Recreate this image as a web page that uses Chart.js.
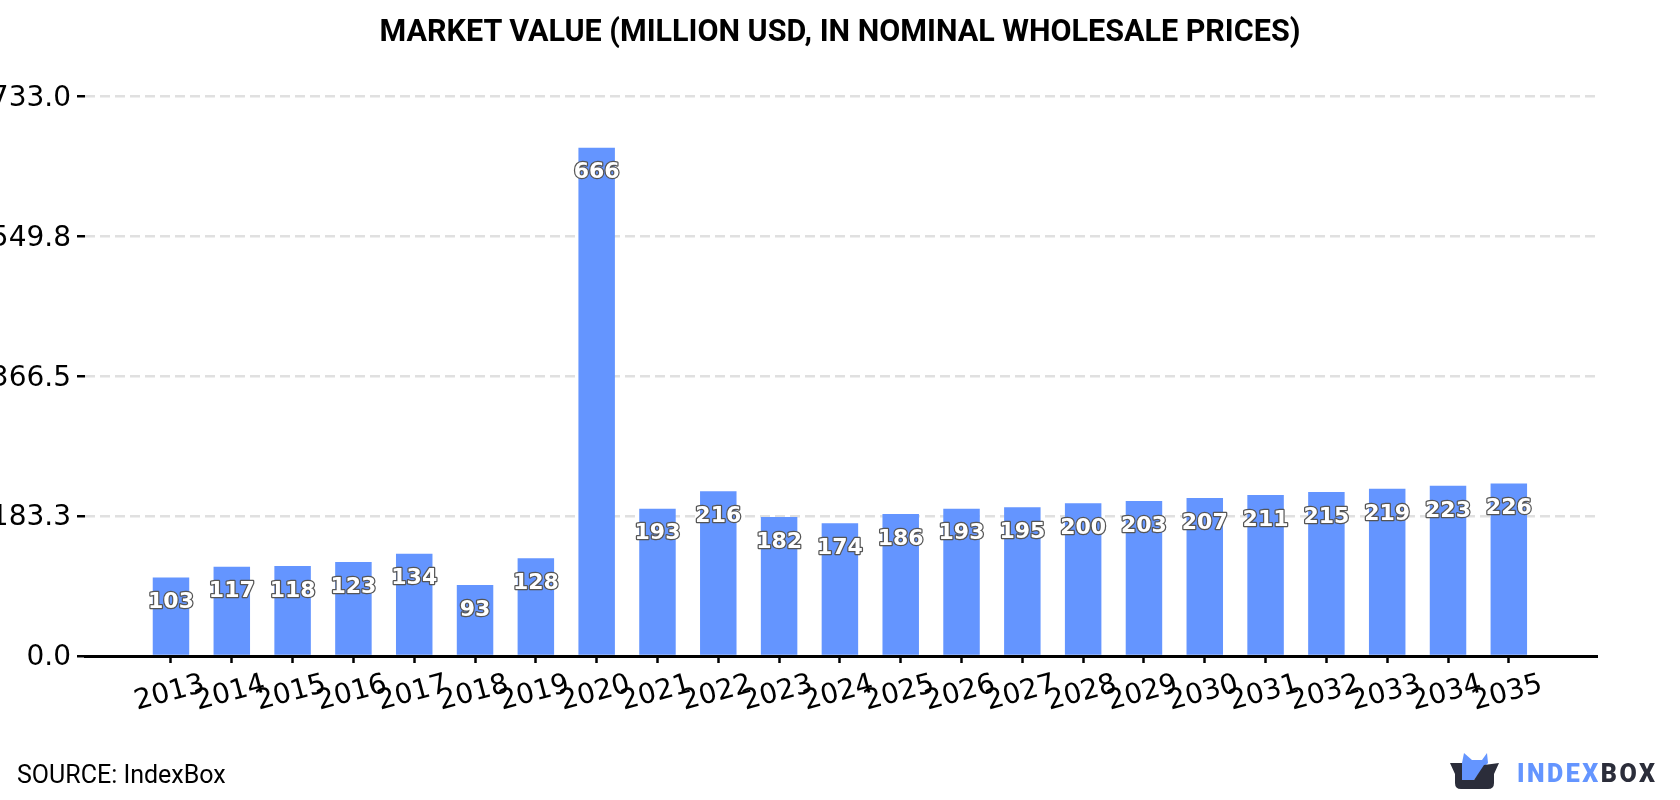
<!DOCTYPE html>
<html>
<head>
<meta charset="utf-8">
<title>Market value</title>
<script src="https://cdn.jsdelivr.net/npm/chart.js@4/dist/chart.umd.min.js"></script>
<style>
  html, body { margin: 0; padding: 0; background: #fff; overflow: hidden; }
  #wrap { position: relative; width: 1680px; height: 800px; }
  #heading { position: absolute; left: 0; top: 14px; width: 1680px; text-align: center; font: 700 30.5px/34px Roboto, sans-serif; color: #000; }
  #source { position: absolute; left: 17px; top: 761px; font: 400 25px/28px Roboto, sans-serif; color: #000; }
  #brand { position: absolute; left: 1450px; top: 752px; width: 210px; height: 40px; }
</style>
</head>
<body>
<div id="wrap">
  <canvas id="myChart" width="1680" height="800"></canvas>
  <div id="heading">MARKET VALUE (MILLION USD, IN NOMINAL WHOLESALE PRICES)</div>
  <div id="source">SOURCE: IndexBox</div>
  <svg id="brand" viewBox="0 0 210 40">
    <polygon points="12,11 14,1 22,8 32,8 37,1 38,11 34,15 24,28 12,28" fill="#6495ff"/>
    <path d="M0,11 L12,11 L12,28 L24,28 L34,13 L49,11 L44,22 L44,31 Q44,37 38,37 L11,37 Q5,37 5,31 L5,22 Z" fill="#2b2d3a"/>
    <text x="67" y="30" font-family="Roboto, sans-serif" font-weight="900" font-size="25" letter-spacing="2.5" fill="#6495ff">INDEX<tspan fill="#2b2d3a">BOX</tspan></text>
  </svg>
</div>
<script>
const years = [2013, 2014, 2015, 2016, 2017, 2018, 2019, 2020, 2021, 2022, 2023, 2024, 2025, 2026, 2027, 2028, 2029, 2030, 2031, 2032, 2033, 2034, 2035];
const marketValue = [103, 117, 118, 123, 134, 93, 128, 666, 193, 216, 182, 174, 186, 193, 195, 200, 203, 207, 211, 215, 219, 223, 226];
const yTicks = [0, 183.3, 366.5, 549.8, 733];

// value labels sit just under the top of each bar
const barLabels = {
  id: 'barLabels',
  afterDatasetsDraw(chart) {
    const ctx = chart.ctx;
    const bars = chart.getDatasetMeta(0).data;
    ctx.save();
    ctx.font = 'bold 22px "DejaVu Sans"';
    ctx.textAlign = 'center';
    ctx.textBaseline = 'middle';
    ctx.lineJoin = 'round';
    bars.forEach((bar, i) => {
      ctx.lineWidth = 2.5;
      ctx.strokeStyle = '#555';
      ctx.strokeText(marketValue[i], bar.x, bar.y + 25);
      ctx.fillStyle = '#fff';
      ctx.fillText(marketValue[i], bar.x, bar.y + 25);
    });
    ctx.restore();
  },
};

const ctx = document.getElementById('myChart');
const myChart = new Chart(ctx, {
  type: 'bar',
  data: {
    labels: years,
    datasets: [
      {
        label: 'Market value',
        data: marketValue,
        backgroundColor: '#6495ff',
        barPercentage: 0.6,
        categoryPercentage: 1,
      },
    ],
  },
  plugins: [barLabels],
  options: {
    responsive: false,
    animation: false,
    layout: { padding: { left: 0, right: 83, top: 96.5, bottom: 0 } },
    plugins: {
      legend: { display: false },
      tooltip: { enabled: false },
    },
    scales: {
      x: {
        type: 'linear',
        offset: false,
        min: 2013 - 1.414,
        max: 2035 + 1.45,
        grid: { display: true, offset: false, drawOnChartArea: false, drawTicks: true, tickLength: 7, tickColor: '#000', tickWidth: 2.5 },
        border: { display: true, color: '#000', width: 3 },
        afterBuildTicks(scale) {
          scale.ticks = years.map((y) => ({ value: y }));
        },
        afterFit(scale) {
          scale.height = 144;
          scale.paddingLeft = 0;
          scale.paddingRight = 0;
        },
        ticks: {
          autoSkip: false,
          includeBounds: false,
          minRotation: 15,
          maxRotation: 15,
          labelOffset: 33,
          padding: 5,
          color: '#000',
          font: { family: 'DejaVu Sans', size: 28 },
          callback: (v) => String(v),
        },
      },
      y: {
        min: 0,
        max: 733,
        grid: { color: '#e0e0e0', lineWidth: 2.5, tickColor: '#000', tickLength: 8, tickWidth: 2.5, tickBorderDash: [] },
        border: { display: false, dash: [10, 5] },
        afterBuildTicks(scale) {
          scale.ticks = yTicks.map((v) => ({ value: v }));
        },
        afterFit(scale) {
          scale.width = 85;
          scale.paddingTop = 0;
          scale.paddingBottom = 0;
        },
        ticks: {
          padding: 6,
          labelOffset: 2,
          color: '#000',
          font: { family: 'DejaVu Sans', size: 28 },
          callback: (v) => v.toFixed(1),
        },
      },
    },
  },
});
</script>
</body>
</html>
